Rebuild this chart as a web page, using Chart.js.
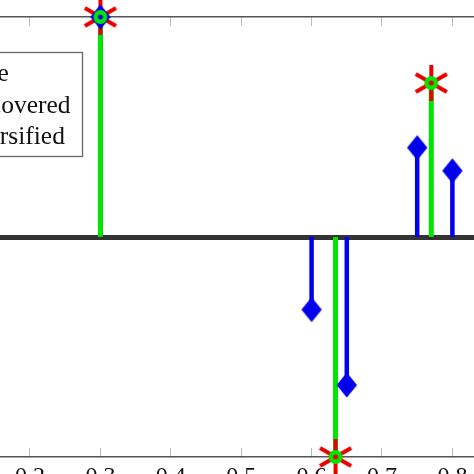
<!DOCTYPE html>
<html>
<head>
<meta charset="utf-8">
<script src="https://cdn.jsdelivr.net/npm/chart.js@4.4.0/dist/chart.umd.min.js"></script>
<style>
html,body{margin:0;padding:0;background:#fff;overflow:hidden;width:474px;height:474px;}
#wrap{position:relative;width:474px;height:474px;overflow:hidden;}
canvas{position:absolute;left:0;top:0;}
</style>
</head>
<body>
<div id="wrap"><canvas id="c" width="474" height="510" style="width:474px;height:510px"></canvas></div>
<script>
// ---- data ----
const trueX = [0.3, 0.634, 0.77];
const trueY = [1, -1, 0.7];
const recoveredX = [0.3, 0.6, 0.65, 0.75, 0.8];
const recoveredY = [1, -0.33, -0.673, 0.406, 0.301];
const sparsifiedX = [0.3, 0.634, 0.77];
const sparsifiedY = [1, -1, 0.7];
const tickValues = [0.2, 0.3, 0.4, 0.5, 0.6, 0.7, 0.8];
const tickLabels = ['0.2', '0.3', '0.4', '0.5', '0.6', '0.7', '0.8'];
const legendLabels = ['True', 'Recovered', 'Sparsified'];
const xMin = 0.1574, xMax = 0.8307, yMin = -1, yMax = 1;

const GREEN = 'rgb(0,230,0)', BLUE = 'rgb(0,0,235)', RED = 'rgb(235,0,0)';

function stems(xs, ys) {
  const out = [];
  xs.forEach((x, i) => { out.push({x: x, y: 0}); out.push({x: x, y: ys[i]}); out.push({x: x, y: null}); });
  return out;
}
function pts(xs, ys) { return xs.map((x, i) => ({x: x, y: ys[i]})); }

function mk(w, h, draw) { const c = document.createElement('canvas'); c.width = w; c.height = h; draw(c.getContext('2d'), w, h); return c; }
const diamond = mk(22, 26, (g, w, h) => {
  g.fillStyle = BLUE; g.beginPath();
  g.moveTo(w/2, 0.5); g.lineTo(w - 0.8, h/2); g.lineTo(w/2, h - 0.5); g.lineTo(0.8, h/2); g.closePath(); g.fill();
});
const asterisk = mk(40, 40, (g, w, h) => {
  g.strokeStyle = RED; g.lineWidth = 4; g.lineCap = 'butt';
  [90, 30, 150].forEach(a => {
    const r = a * Math.PI / 180, L = 18;
    g.beginPath(); g.moveTo(20 - L*Math.cos(r), 20 - L*Math.sin(r)); g.lineTo(20 + L*Math.cos(r), 20 + L*Math.sin(r)); g.stroke();
  });
});
const ring = mk(16, 16, (g) => {
  g.strokeStyle = GREEN; g.lineWidth = 4.4; g.beginPath(); g.arc(8, 8, 4.7, 0, Math.PI*2); g.stroke();
});

const legendPlugin = {
  id: 'boxLegend',
  afterDraw(chart) {
    const g = chart.ctx;
    g.save();
    g.fillStyle = '#fff'; g.strokeStyle = '#666'; g.lineWidth = 1.3;
    g.fillRect(-100, 52.5, 182.5, 104); g.strokeRect(-100, 52.5, 182.5, 104);
    g.fillStyle = '#111'; g.font = '25.5px "Liberation Serif", "DejaVu Serif", serif';
    g.textBaseline = 'alphabetic'; g.textAlign = 'left';
    const base = [81, 113, 144];
    legendLabels.forEach((t, i) => g.fillText(t, -38.5, base[i]));
    g.restore();
  }
};

const setTicks = (s) => { s.ticks = tickValues.map(v => ({value: v})); };
const noPad = (h) => (s) => { s.height = h; s.paddingLeft = 0; s.paddingRight = 0; };

new Chart(document.getElementById('c'), {
  type: 'scatter',
  data: {
    datasets: [
      {data: pts(trueX, trueY), pointStyle: ring, pointRadius: 7, showLine: false, order: 0, clip: false},
      {data: pts(recoveredX, recoveredY), pointStyle: diamond, pointRadius: 12, showLine: false, order: 1, clip: false},
      {data: pts(sparsifiedX, sparsifiedY), pointStyle: asterisk, pointRadius: 18, showLine: false, order: 2, clip: false},
      {data: stems(trueX, trueY), showLine: true, spanGaps: false, borderColor: GREEN, borderWidth: 5, borderCapStyle: 'butt', pointRadius: 0, order: 3, clip: false},
      {data: stems(recoveredX, recoveredY), showLine: true, spanGaps: false, borderColor: BLUE, borderWidth: 4.5, borderCapStyle: 'butt', pointRadius: 0, order: 4, clip: false}
    ]
  },
  options: {
    responsive: false, animation: false, devicePixelRatio: 1,
    layout: {padding: {left: 0, right: 0, top: 0, bottom: 0}, autoPadding: false},
    plugins: {legend: {display: false}, tooltip: {enabled: false}},
    scales: {
      x: {
        type: 'linear', position: 'bottom', min: xMin, max: xMax,
        afterBuildTicks: setTicks,
        afterFit: noPad(510 - 457),
        grid: {drawOnChartArea: false, drawTicks: true, tickLength: -9, color: '#bbb', lineWidth: 1},
        border: {display: true, color: '#555', width: 1.5},
        ticks: {
          color: '#111', padding: 14, maxRotation: 0, autoSkip: false,
          font: {family: '"Liberation Serif", "DejaVu Serif", serif', size: 24},
          callback: (v, i) => tickLabels[i]
        }
      },
      x2: {
        type: 'linear', position: 'top', min: xMin, max: xMax,
        afterBuildTicks: setTicks,
        afterFit: noPad(17),
        grid: {drawOnChartArea: false, drawTicks: true, tickLength: -9, color: '#bbb', lineWidth: 1},
        border: {display: true, color: '#555', width: 1.5},
        ticks: {display: false}
      },
      y: {
        type: 'linear', min: yMin, max: yMax, z: 1,
        afterBuildTicks: (s) => { s.ticks = [{value: 0}]; },
        afterFit: (s) => { s.width = 0; s.paddingTop = 0; s.paddingBottom = 0; },
        grid: {drawOnChartArea: true, drawTicks: false, color: '#333', lineWidth: 5},
        border: {display: false},
        ticks: {display: false}
      }
    }
  },
  plugins: [legendPlugin]
});
</script>
</body>
</html>
